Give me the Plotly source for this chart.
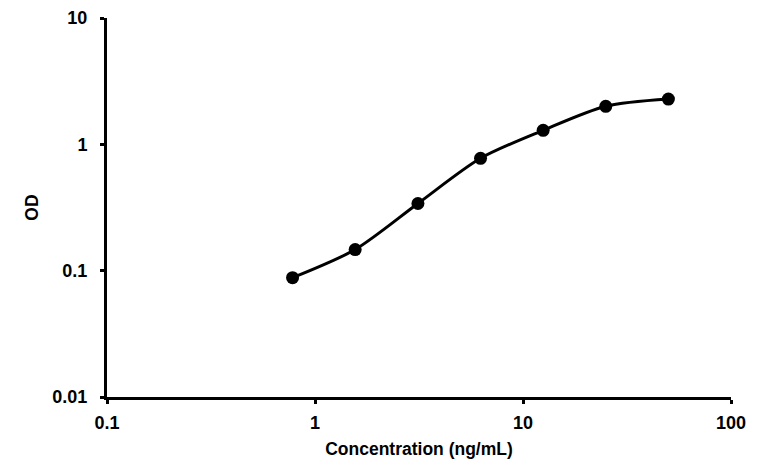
import plotly.graph_objects as go

# Curva padrão: concentração x OD
concentracao = [0.78, 1.56, 3.125, 6.25, 12.5, 25, 50]
od = [0.088, 0.147, 0.34, 0.775, 1.29, 2.0, 2.28]

x_ticks = [0.1, 1, 10, 100]
x_tick_labels = ['0.1', '1', '10', '100']
y_ticks = [0.01, 0.1, 1, 10]
y_tick_labels = ['0.01', '0.1', '1', '10']

familia = 'Liberation Sans, Arial'

fig = go.Figure()
fig.add_trace(go.Scatter(
    x=concentracao,
    y=od,
    mode='lines+markers',
    line=dict(color='black', width=3, shape='spline', smoothing=0.8),
    marker=dict(color='black', size=13),
    showlegend=False
))

eixo = dict(
    type='log',
    automargin=False,
    showgrid=False,
    zeroline=False,
    showline=True,
    linecolor='black',
    linewidth=3,
    ticks='outside',
    ticklen=4,
    tickwidth=3,
    tickcolor='black',
    tickfont=dict(family=familia, size=18, color='black', weight='bold'),
)

# a página tem 8px de margem no body, por isso 760x462
fig.update_layout(
    width=760,
    height=462,
    margin=dict(l=99, r=37, t=10, b=73),
    plot_bgcolor='white',
    paper_bgcolor='white',
    xaxis=dict(
        eixo,
        range=[-1, 2],
        tickvals=x_ticks,
        ticktext=x_tick_labels,
        ticklabelstandoff=3,
        title=dict(text='<b>Concentration (ng/mL)</b>', standoff=12,
                   font=dict(family=familia, size=17.5, color='black')),
    ),
    yaxis=dict(
        eixo,
        range=[-2, 1],
        tickvals=y_ticks,
        ticktext=y_tick_labels,
        ticklabelstandoff=9,
        title=dict(text='<b>OD</b>', standoff=10,
                   font=dict(family=familia, size=17.5, color='black')),
    ),
)

fig.write_html('out.html')
